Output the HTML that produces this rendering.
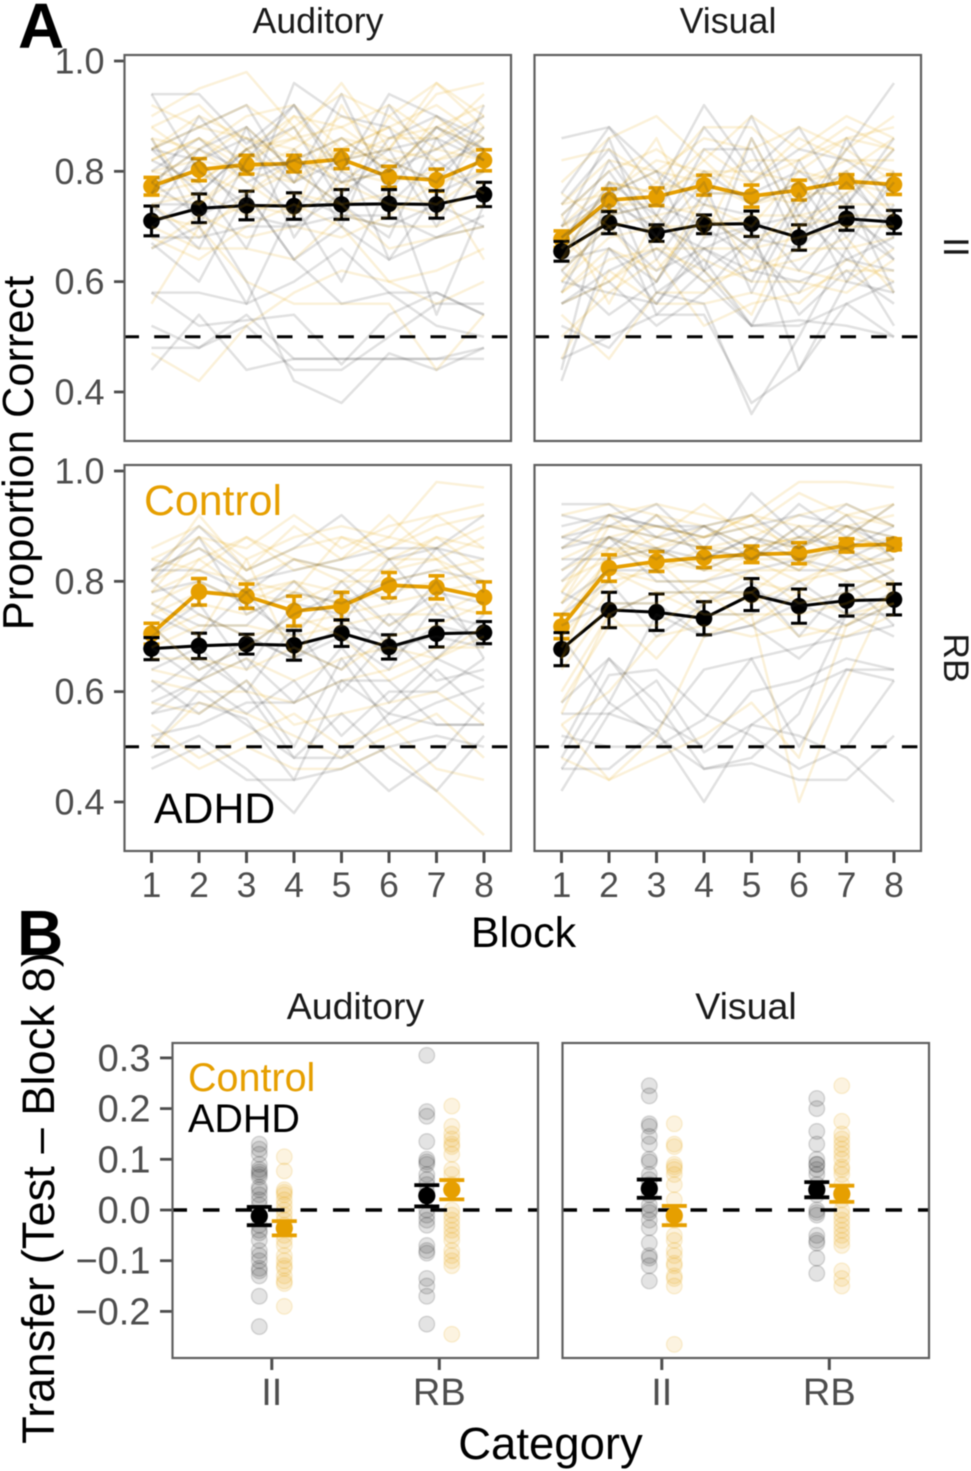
<!DOCTYPE html>
<html lang="en">
<head>
<meta charset="utf-8">
<title>Proportion correct and transfer by block, modality and category</title>
<style>
html,body{margin:0;padding:0;background:#fff;}
#chart{display:block;width:971px;height:1471px;filter:blur(0.55px);font-family:"Liberation Sans",Arial,sans-serif;}
text{font-family:"Liberation Sans",Arial,sans-serif;}
</style>
</head>
<body>
<svg id="chart" xmlns="http://www.w3.org/2000/svg" width="971" height="1471" viewBox="0 0 971 1471">
  <rect x="0" y="0" width="971" height="1471" fill="#ffffff"/>
  <g id="marks"></g>
  <g fill="none" stroke="#5f5f5f" stroke-width="2.2">
    <rect x="124.5" y="55" width="386.5" height="386"/>
    <rect x="534.5" y="55" width="386.5" height="386"/>
    <rect x="124.5" y="465" width="386.5" height="386"/>
    <rect x="534.5" y="465" width="386.5" height="386"/>
    <rect x="172.5" y="1043" width="365.5" height="315"/>
    <rect x="562.5" y="1043" width="366.5" height="315"/>
  </g>
  <text x="18" y="48" font-size="64" font-weight="bold" fill="#000">A</text>
  <text x="17" y="955" font-size="64" font-weight="bold" fill="#000">B</text>
  <text x="318" y="33" font-size="35.7" text-anchor="middle" fill="#1a1a1a">Auditory</text>
  <text x="728" y="33" font-size="35.8" text-anchor="middle" fill="#1a1a1a">Visual</text>
  <text transform="translate(944,247) rotate(90)" font-size="35.5" text-anchor="middle" fill="#1a1a1a">II</text>
  <text transform="translate(944,658) rotate(90)" font-size="35.5" text-anchor="middle" fill="#1a1a1a">RB</text>
  <text transform="translate(33,453) rotate(-90)" font-size="43.4" text-anchor="middle" fill="#000">Proportion Correct</text>
  <text x="523.5" y="947" font-size="43" text-anchor="middle" fill="#000">Block</text>
  <text x="144" y="515" font-size="42.8" fill="#E69F00">Control</text>
  <text x="154" y="823" font-size="42.8" fill="#000">ADHD</text>
  <text x="355.5" y="1019" font-size="37.5" text-anchor="middle" fill="#1a1a1a">Auditory</text>
  <text x="746" y="1019" font-size="37.5" text-anchor="middle" fill="#1a1a1a">Visual</text>
  <text x="188" y="1091" font-size="39.5" fill="#E69F00">Control</text>
  <text x="188" y="1132" font-size="39.5" fill="#000">ADHD</text>
  <text transform="translate(54,1198) rotate(-90)" font-size="45.3" text-anchor="middle" fill="#000">Transfer (Test – Block 8)</text>
  <text x="550.5" y="1459" font-size="45.5" text-anchor="middle" fill="#000">Category</text>
</svg>
<script>
// ---------- axis data ----------
const blockLabels = [1, 2, 3, 4, 5, 6, 7, 8];
const accuracyTicks = [1.0, 0.8, 0.6, 0.4];
const accuracyTickLabels = ['1.0', '0.8', '0.6', '0.4'];
const chanceLevel = 0.5;
const transferTicks = [0.3, 0.2, 0.1, 0.0, -0.1, -0.2];
const transferTickLabels = ['0.3', '0.2', '0.1', '0.0', '−0.1', '−0.2'];
const transferCategories = ['II', 'RB'];
const transferZero = 0;

// ---------- group means and standard errors (blocks 1-8) ----------
const audIIAdhdMean = [0.710, 0.733, 0.738, 0.737, 0.740, 0.741, 0.740, 0.758];
const audIIAdhdSe = [0.027, 0.026, 0.026, 0.024, 0.027, 0.026, 0.025, 0.022];
const audIIControlMean = [0.773, 0.803, 0.812, 0.814, 0.822, 0.790, 0.784, 0.820];
const audIIControlSe = [0.016, 0.020, 0.017, 0.015, 0.017, 0.019, 0.020, 0.019];
const visIIAdhdMean = [0.655, 0.707, 0.688, 0.704, 0.705, 0.680, 0.714, 0.708];
const visIIAdhdSe = [0.018, 0.020, 0.015, 0.017, 0.023, 0.023, 0.021, 0.021];
const visIIControlMean = [0.677, 0.748, 0.754, 0.775, 0.755, 0.766, 0.782, 0.776];
const visIIControlSe = [0.015, 0.020, 0.016, 0.018, 0.020, 0.018, 0.012, 0.018];
const audRBAdhdMean = [0.678, 0.683, 0.686, 0.684, 0.706, 0.681, 0.705, 0.707];
const audRBAdhdSe = [0.020, 0.023, 0.018, 0.027, 0.024, 0.022, 0.024, 0.020];
const audRBControlMean = [0.705, 0.781, 0.773, 0.746, 0.755, 0.793, 0.789, 0.771];
const audRBControlSe = [0.019, 0.024, 0.022, 0.027, 0.025, 0.023, 0.021, 0.028];
const visRBAdhdMean = [0.677, 0.748, 0.744, 0.733, 0.776, 0.755, 0.765, 0.767];
const visRBAdhdSe = [0.030, 0.032, 0.033, 0.030, 0.029, 0.031, 0.028, 0.028];
const visRBControlMean = [0.718, 0.824, 0.836, 0.843, 0.849, 0.851, 0.865, 0.867];
const visRBControlSe = [0.022, 0.024, 0.018, 0.018, 0.015, 0.019, 0.012, 0.010];

// ---------- individual participant traces ----------
const audIIAdhdLines = [
  [.94,.94,.85,.92,.80,.94,.90,.84],[.94,.80,.74,.96,.90,.88,.72,.92],[.84,.88,.92,.78,.94,.76,.88,.82],
  [.84,.76,.84,.88,.74,.86,.90,.86],[.80,.86,.78,.82,.86,.80,.84,.90],[.76,.82,.72,.70,.76,.82,.78,.88],
  [.72,.84,.88,.80,.74,.68,.86,.74],[.70,.76,.84,.76,.72,.70,.74,.70],[.68,.68,.70,.70,.72,.72,.68,.70],
  [.67,.60,.76,.64,.70,.64,.68,.72],[.66,.70,.56,.74,.60,.78,.54,.74],[.58,.58,.56,.60,.66,.58,.58,.54],
  [.58,.52,.53,.54,.45,.54,.58,.54],[.52,.48,.54,.46,.46,.46,.46,.48],[.48,.48,.52,.44,.44,.50,.56,.56],
  [.44,.54,.44,.46,.46,.46,.46,.46],[.74,.74,.60,.42,.38,.47,.44,.48],[.78,.72,.76,.64,.56,.58,.52,.50],
  [.82,.78,.66,.84,.70,.92,.80,.86],[.76,.90,.80,.72,.84,.64,.76,.80],[.86,.70,.88,.68,.80,.74,.82,.76],
  [.74,.66,.82,.92,.78,.84,.70,.84],[.84,.82,.86,.78,.82,.84,.86,.82],[.78,.84,.80,.82,.78,.80,.88,.84]
];
const audIIControlLines = [
  [.90,.95,.98,.88,.94,.90,.96,.88],[.92,.88,.92,.86,.96,.84,.94,.96],[.88,.92,.84,.90,.88,.92,.86,.94],
  [.86,.84,.90,.92,.84,.88,.92,.86],[.84,.90,.86,.84,.90,.86,.88,.92],[.82,.86,.82,.86,.88,.82,.84,.88],
  [.80,.82,.88,.80,.84,.88,.82,.84],[.78,.80,.76,.82,.80,.78,.90,.82],[.76,.78,.84,.78,.86,.80,.76,.86],
  [.74,.76,.72,.76,.74,.76,.74,.80],[.72,.70,.74,.72,.78,.74,.72,.78],[.70,.66,.66,.64,.72,.70,.70,.74],
  [.68,.64,.70,.74,.70,.60,.62,.66],[.66,.72,.68,.70,.68,.72,.78,.64],[.56,.70,.60,.56,.56,.56,.44,.54],
  [.47,.42,.52,.58,.62,.60,.56,.60],[.82,.86,.80,.90,.82,.84,.96,.90],[.78,.84,.78,.72,.92,.78,.80,.76],
  [.86,.74,.82,.88,.76,.90,.84,.82],[.74,.68,.76,.80,.74,.66,.68,.70],[.84,.88,.86,.82,.86,.84,.82,.86],
  [.80,.78,.84,.86,.82,.86,.86,.90],[.88,.82,.80,.84,.78,.80,.88,.84],[.76,.74,.80,.78,.84,.82,.78,.80]
];
const visIIAdhdLines = [
  [.86,.88,.80,.74,.90,.72,.84,.96],[.76,.88,.76,.92,.80,.88,.74,.86],[.74,.84,.72,.88,.78,.84,.82,.76],
  [.72,.80,.68,.84,.84,.66,.86,.72],[.70,.86,.64,.76,.76,.80,.74,.84],[.68,.76,.80,.62,.86,.70,.78,.70],
  [.66,.72,.74,.70,.64,.82,.68,.78],[.64,.66,.60,.74,.72,.62,.72,.66],[.62,.70,.62,.66,.60,.76,.60,.74],
  [.60,.58,.56,.66,.62,.60,.64,.62],[.58,.74,.54,.62,.52,.68,.76,.58],[.56,.60,.52,.58,.68,.54,.62,.56],
  [.56,.62,.66,.60,.52,.52,.56,.50],[.52,.48,.58,.56,.36,.50,.66,.52],[.46,.50,.54,.54,.38,.44,.60,.58],
  [.44,.78,.58,.64,.52,.53,.52,.50],[.42,.66,.56,.68,.70,.44,.56,.60],[.62,.54,.60,.72,.66,.58,.70,.64],
  [.70,.76,.68,.78,.58,.74,.80,.68],[.66,.82,.70,.80,.74,.78,.66,.80],[.68,.74,.70,.66,.70,.72,.64,.68],
  [.64,.78,.72,.62,.68,.66,.74,.64]
];
const visIIControlLines = [
  [.78,.86,.90,.82,.90,.84,.90,.86],[.82,.84,.78,.88,.88,.80,.86,.88],[.74,.82,.80,.86,.84,.88,.84,.90],
  [.72,.80,.84,.78,.82,.82,.88,.84],[.70,.78,.76,.84,.78,.86,.82,.82],[.68,.76,.82,.80,.80,.78,.80,.86],
  [.66,.74,.74,.82,.74,.76,.76,.80],[.64,.72,.78,.76,.76,.74,.84,.78],[.62,.70,.72,.74,.70,.80,.78,.76],
  [.60,.68,.70,.70,.72,.72,.74,.74],[.58,.66,.62,.72,.68,.70,.72,.72],[.58,.64,.66,.66,.66,.68,.70,.70],
  [.56,.60,.68,.60,.62,.66,.66,.68],[.54,.46,.58,.58,.64,.62,.60,.66],[.50,.58,.64,.52,.56,.58,.62,.62],
  [.46,.62,.56,.56,.58,.56,.64,.60],[.76,.70,.60,.76,.62,.64,.68,.58],[.72,.56,.72,.64,.60,.60,.58,.64],
  [.70,.74,.86,.68,.86,.70,.76,.84],[.68,.60,.66,.62,.54,.72,.70,.70],[.64,.78,.76,.80,.78,.82,.86,.84],
  [.74,.76,.80,.78,.74,.78,.82,.80],[.60,.72,.74,.72,.66,.74,.80,.72]
];
const audRBAdhdLines = [
  [.82,.90,.82,.86,.92,.84,.86,.92],[.82,.82,.78,.84,.82,.76,.86,.84],[.82,.86,.80,.82,.84,.86,.86,.78],
  [.80,.88,.74,.78,.76,.80,.82,.80],[.78,.80,.76,.70,.80,.72,.78,.76],[.76,.72,.72,.80,.72,.84,.74,.72],
  [.72,.64,.68,.74,.78,.68,.70,.68],[.68,.62,.70,.66,.70,.64,.76,.68],[.64,.68,.60,.72,.60,.70,.62,.64],
  [.58,.62,.66,.58,.68,.58,.66,.62],[.56,.62,.56,.62,.52,.60,.60,.66],[.56,.58,.55,.44,.62,.56,.54,.54],
  [.52,.54,.58,.58,.62,.62,.54,.54],[.50,.60,.54,.48,.56,.48,.42,.52],[.48,.52,.46,.38,.50,.42,.48,.58],
  [.46,.50,.44,.44,.46,.50,.52,.50],[.60,.66,.60,.48,.48,.56,.64,.56],[.62,.56,.62,.50,.66,.54,.58,.61],
  [.74,.70,.78,.68,.64,.74,.66,.74],[.70,.76,.64,.76,.74,.66,.72,.70],[.80,.74,.70,.66,.72,.70,.80,.66]
];
const audRBControlLines = [
  [.86,.90,.84,.88,.90,.88,.98,.97],[.84,.88,.86,.92,.86,.90,.92,.94],[.82,.86,.82,.86,.88,.86,.90,.92],
  [.80,.84,.88,.82,.84,.88,.86,.90],[.78,.82,.80,.84,.82,.82,.88,.86],[.76,.80,.76,.80,.78,.84,.84,.88],
  [.74,.78,.78,.76,.80,.80,.82,.84],[.72,.76,.74,.78,.76,.78,.80,.82],[.70,.74,.70,.72,.74,.76,.78,.80],
  [.68,.72,.72,.70,.72,.74,.74,.78],[.66,.66,.64,.68,.64,.70,.72,.76],[.64,.62,.66,.62,.66,.68,.66,.72],
  [.62,.60,.60,.58,.62,.64,.68,.68],[.58,.56,.62,.54,.56,.58,.60,.54],[.54,.48,.52,.56,.50,.54,.46,.44],
  [.52,.46,.50,.46,.46,.50,.42,.34],[.50,.58,.56,.52,.48,.52,.56,.48],[.72,.64,.68,.74,.70,.62,.66,.70],
  [.80,.92,.82,.90,.84,.92,.84,.76],[.76,.70,.84,.66,.78,.72,.76,.74],[.84,.82,.88,.84,.80,.86,.92,.86],
  [.78,.88,.80,.78,.88,.84,.88,.82],[.74,.84,.78,.80,.74,.82,.84,.80]
];
const visRBAdhdLines = [
  [.94,.94,.88,.90,.86,.94,.88,.94],[.92,.90,.94,.86,.96,.88,.94,.90],[.90,.92,.90,.88,.90,.92,.90,.88],
  [.88,.86,.92,.84,.88,.86,.92,.84],[.86,.88,.84,.90,.84,.90,.84,.88],[.84,.84,.86,.82,.86,.82,.82,.86],
  [.82,.88,.80,.80,.82,.84,.86,.80],[.78,.74,.78,.78,.78,.76,.78,.82],[.76,.82,.82,.74,.74,.80,.74,.78],
  [.74,.80,.70,.76,.80,.70,.80,.72],[.72,.76,.76,.70,.72,.76,.72,.76],[.70,.58,.74,.70,.72,.66,.74,.74],
  [.58,.66,.55,.50,.60,.62,.66,.64],[.56,.56,.62,.49,.54,.60,.64,.62],[.46,.46,.53,.64,.66,.50,.64,.64],
  [.46,.58,.52,.46,.47,.44,.44,.52],[.42,.56,.53,.40,.54,.52,.48,.40],[.48,.63,.64,.56,.52,.46,.50,.62],
  [.52,.50,.50,.55,.66,.68,.70,.72],[.50,.66,.58,.46,.48,.56,.74,.70],[.88,.90,.88,.86,.84,.88,.86,.90],
  [.86,.92,.90,.90,.92,.86,.90,.86],[.80,.88,.86,.84,.88,.84,.82,.84]
];
const visRBControlLines = [
  [.92,.94,.92,.90,.92,.98,.98,.97],[.88,.92,.94,.92,.90,.96,.92,.94],[.86,.90,.88,.94,.88,.92,.94,.90],
  [.84,.88,.90,.88,.92,.90,.90,.92],[.82,.86,.86,.90,.86,.88,.88,.94],[.80,.84,.88,.86,.88,.86,.90,.88],
  [.78,.88,.84,.84,.84,.84,.86,.86],[.76,.86,.82,.86,.86,.88,.84,.84],[.74,.84,.86,.82,.82,.82,.88,.86],
  [.72,.82,.80,.80,.84,.80,.82,.84],[.70,.80,.82,.84,.80,.78,.86,.82],[.68,.82,.78,.78,.78,.84,.80,.80],
  [.66,.78,.84,.76,.82,.76,.78,.82],[.64,.76,.76,.80,.76,.80,.84,.78],[.60,.74,.78,.74,.74,.74,.76,.80],
  [.58,.72,.72,.78,.72,.78,.74,.76],[.54,.60,.70,.72,.70,.72,.70,.74],[.54,.44,.52,.70,.74,.40,.62,.80],
  [.48,.44,.48,.52,.58,.48,.72,.78],[.56,.74,.66,.76,.78,.70,.72,.76],[.76,.90,.90,.88,.90,.86,.92,.90],
  [.72,.84,.92,.86,.84,.90,.86,.88],[.78,.92,.86,.88,.92,.84,.88,.86],[.66,.86,.84,.82,.86,.82,.90,.84]
];

// ---------- transfer scores (test minus block 8) ----------
const transferAudIIAdhd = [.13,.12,.11,.09,.08,.075,.07,.065,.045,.04,.03,.02,.01,-.01,-.03,-.04,-.045,-.06,-.08,-.09,-.10,-.115,-.12,-.13,-.17,-.23];
const transferAudIIControl = [.105,.077,.04,.035,.03,.02,.01,0,-.01,-.02,-.03,-.05,-.06,-.07,-.09,-.10,-.11,-.115,-.13,-.14,-.145,-.19];
const transferAudRBAdhd = [.305,.194,.185,.135,.10,.095,.09,.07,.06,.05,.035,0,-.01,-.02,-.03,-.07,-.08,-.085,-.135,-.15,-.17,-.225];
const transferAudRBControl = [.205,.165,.15,.14,.13,.125,.11,.08,.07,.05,0,-.01,-.02,-.03,-.04,-.05,-.06,-.08,-.09,-.10,-.11,-.245];
const transferVisIIAdhd = [.245,.225,.17,.165,.145,.13,.10,.095,.07,.06,.05,.03,.01,0,-.005,-.02,-.035,-.065,-.09,-.095,-.11,-.14];
const transferVisIIControl = [.17,.13,.125,.09,.085,.08,.07,.05,.02,-.02,-.05,-.06,-.08,-.09,-.105,-.11,-.13,-.135,-.15,-.265];
const transferVisRBAdhd = [.22,.20,.155,.13,.10,.09,.09,.08,.07,.05,.03,0,-.005,-.01,-.05,-.06,-.065,-.095,-.125];
const transferVisRBControl = [.245,.175,.15,.14,.13,.12,.11,.10,.085,.08,.07,.05,.03,.02,0,-.01,-.02,-.03,-.04,-.05,-.06,-.07,-.12,-.135,-.15];
const transferAdhdMeans = [-0.012, 0.028, 0.042, 0.040];
const transferAdhdSe = [0.018, 0.021, 0.018, 0.015];
const transferControlMeans = [-0.036, 0.040, -0.011, 0.032];
const transferControlSe = [0.014, 0.019, 0.019, 0.016];

// ---------- drawing ----------
const NS = 'http://www.w3.org/2000/svg';
const ADHD_COLOR = '#000000';
const CONTROL_COLOR = '#E69F00';
const marks = document.getElementById('marks');

function add(parent, tag, attrs) {
  const el = document.createElementNS(NS, tag);
  for (const k in attrs) el.setAttribute(k, attrs[k]);
  parent.appendChild(el);
  return el;
}

// axis functions
function blockScale(left) { return function (b) { return left + 27 + (b - 1) * 47.5; }; }
function accuracyScale(top) { return function (v) { return top + 6 + (1 - v) * 551.6; }; }
function transferScale(v) { return 1210 - v * 507; }

function drawMean(parent, xs, ys, means, ses, color, lineW, capW, name) {
  const group = add(parent, 'g', {});
  
  
  const trend = add(group, 'polyline', {
    points: means.map(function (m, i) { return xs(blockLabels[i]) + ',' + ys(m); }).join(' '),
    fill: 'none', stroke: color, 'stroke-width': lineW, 'stroke-linejoin': 'round'
  });
  
  
  means.forEach(function (m, i) {
    const cx = xs(blockLabels[i]);
    const hi = ys(m + ses[i]);
    const lo = ys(m - ses[i]);
    const bar = add(group, 'path', {
      d: 'M' + (cx - 8) + ' ' + hi + 'H' + (cx + 8) + 'M' + cx + ' ' + hi + 'V' + lo + 'M' + (cx - 8) + ' ' + lo + 'H' + (cx + 8),
      fill: 'none', stroke: color, 'stroke-width': capW
    });
    
    
    const dot = add(group, 'circle', { cx: cx, cy: ys(m), r: 8.3, fill: color });
    
    
  });
}

function drawTraces(parent, xs, ys, lines, color, opacity, name) {
  const group = add(parent, 'g', {});
  
  
  lines.forEach(function (vals) {
    const trace = add(group, 'polyline', {
      points: vals.map(function (v, i) { return xs(blockLabels[i]) + ',' + ys(v); }).join(' '),
      fill: 'none', stroke: color, 'stroke-width': 2.5, 'stroke-opacity': opacity, 'stroke-linejoin': 'round'
    });
    
    
  });
}

function drawAccuracyPanel(left, top, d, name) {
  const xs = blockScale(left);
  const ys = accuracyScale(top);
  const group = add(marks, 'g', {});
  
  
  drawMean(group, xs, ys, d.controlMean, d.controlSe, CONTROL_COLOR, 3.8, 3.6, name + '-control');
  drawMean(group, xs, ys, d.adhdMean, d.adhdSe, ADHD_COLOR, 3.1, 3.1, name + '-adhd');
  drawTraces(group, xs, ys, d.controlLines, CONTROL_COLOR, 0.15, name + '-control');
  drawTraces(group, xs, ys, d.adhdLines, '#333333', 0.15, name + '-adhd');
  const chance = add(group, 'line', {
    x1: left, x2: left + 386.5, y1: ys(chanceLevel), y2: ys(chanceLevel),
    stroke: '#000', 'stroke-width': 3, 'stroke-dasharray': '15.5 15.2', 'stroke-dashoffset': 1
  });
  
  
}

function drawAccuracyYAxis(top, name) {
  const ys = accuracyScale(top);
  accuracyTicks.forEach(function (t, i) {
    const tick = add(marks, 'line', { x1: 114, x2: 124, y1: ys(t), y2: ys(t), stroke: '#4d4d4d', 'stroke-width': 2.8 });
    
    
    const label = add(marks, 'text', { x: 104.5, y: ys(t) + 12.5, 'font-size': 36, 'text-anchor': 'end', fill: '#4d4d4d' });
    label.textContent = accuracyTickLabels[i];
    
    
  });
}

function drawBlockAxis(left, name) {
  const xs = blockScale(left);
  blockLabels.forEach(function (b) {
    const tick = add(marks, 'line', { x1: xs(b), x2: xs(b), y1: 851, y2: 863, stroke: '#4d4d4d', 'stroke-width': 3 });
    
    
    const label = add(marks, 'text', { x: xs(b), y: 897, 'font-size': 35.5, 'text-anchor': 'middle', fill: '#4d4d4d' });
    label.textContent = b;
    
    
  });
}

function categoryX(left, index) { return left + 99.3 + index * 167.5; }

function drawTransferDots(parent, cx, vals, color, name) {
  vals.forEach(function (v) {
    const dot = add(parent, 'circle', {
      cx: cx, cy: transferScale(v), r: 7.8, fill: color, 'fill-opacity': 0.12, stroke: color, 'stroke-opacity': 0.15, 'stroke-width': 1.4
    });
    
    
  });
}

function drawTransferMean(parent, cx, mean, se, color, name) {
  const hi = transferScale(mean + se);
  const lo = transferScale(mean - se);
  const bar = add(parent, 'path', {
    d: 'M' + (cx - 12.5) + ' ' + hi + 'H' + (cx + 12.5) + 'M' + cx + ' ' + hi + 'V' + lo + 'M' + (cx - 12.5) + ' ' + lo + 'H' + (cx + 12.5),
    fill: 'none', stroke: color, 'stroke-width': 3.8
  });
  
  
  const dot = add(parent, 'circle', { cx: cx, cy: transferScale(mean), r: 8.6, fill: color });
  
  
}

function drawTransferPanel(left, offset, adhdVals, controlVals, name) {
  const group = add(marks, 'g', {});
  
  
  transferCategories.forEach(function (c, i) {
    const cx = categoryX(left, i);
    drawTransferDots(group, cx - 12.5, adhdVals[i], '#1a1a1a', name + '-' + c + '-adhd');
    drawTransferDots(group, cx + 12.5, controlVals[i], CONTROL_COLOR, name + '-' + c + '-control');
  });
  const zero = add(group, 'line', {
    x1: left, x2: left + 366, y1: transferScale(transferZero), y2: transferScale(transferZero),
    stroke: '#000', 'stroke-width': 3.4, 'stroke-dasharray': '16.5 16', 'stroke-dashoffset': 2
  });
  
  
  transferCategories.forEach(function (c, i) {
    const cx = categoryX(left, i);
    drawTransferMean(group, cx - 12.5, transferAdhdMeans[offset + i], transferAdhdSe[offset + i], ADHD_COLOR, name + '-' + c + '-adhd');
    drawTransferMean(group, cx + 12.5, transferControlMeans[offset + i], transferControlSe[offset + i], CONTROL_COLOR, name + '-' + c + '-control');
    const tick = add(marks, 'line', { x1: cx, x2: cx, y1: 1358, y2: 1370, stroke: '#4d4d4d', 'stroke-width': 3 });
    
    
    const label = add(marks, 'text', { x: cx, y: 1405, 'font-size': 38, 'text-anchor': 'middle', fill: '#4d4d4d' });
    label.textContent = c;
    
    
  });
}

drawAccuracyPanel(124.5, 55, { adhdMean: audIIAdhdMean, adhdSe: audIIAdhdSe, controlMean: audIIControlMean, controlSe: audIIControlSe, adhdLines: audIIAdhdLines, controlLines: audIIControlLines }, 'auditory-ii');
drawAccuracyPanel(534.5, 55, { adhdMean: visIIAdhdMean, adhdSe: visIIAdhdSe, controlMean: visIIControlMean, controlSe: visIIControlSe, adhdLines: visIIAdhdLines, controlLines: visIIControlLines }, 'visual-ii');
drawAccuracyPanel(124.5, 465, { adhdMean: audRBAdhdMean, adhdSe: audRBAdhdSe, controlMean: audRBControlMean, controlSe: audRBControlSe, adhdLines: audRBAdhdLines, controlLines: audRBControlLines }, 'auditory-rb');
drawAccuracyPanel(534.5, 465, { adhdMean: visRBAdhdMean, adhdSe: visRBAdhdSe, controlMean: visRBControlMean, controlSe: visRBControlSe, adhdLines: visRBAdhdLines, controlLines: visRBControlLines }, 'visual-rb');
drawAccuracyYAxis(55, 'ii-row');
drawAccuracyYAxis(465, 'rb-row');
drawBlockAxis(124.5, 'auditory');
drawBlockAxis(534.5, 'visual');

drawTransferPanel(172.5, 0, [transferAudIIAdhd, transferAudRBAdhd], [transferAudIIControl, transferAudRBControl], 'transfer-auditory');
drawTransferPanel(562.5, 2, [transferVisIIAdhd, transferVisRBAdhd], [transferVisIIControl, transferVisRBControl], 'transfer-visual');

transferTicks.forEach(function (t, i) {
  const tick = add(marks, 'line', { x1: 160, x2: 172, y1: transferScale(t), y2: transferScale(t), stroke: '#4d4d4d', 'stroke-width': 2.8 });
  
  
  const label = add(marks, 'text', { x: 150.5, y: transferScale(t) + 13, 'font-size': 38, 'text-anchor': 'end', fill: '#4d4d4d' });
  label.textContent = transferTickLabels[i];
  
  
});
</script>
</body>
</html>
